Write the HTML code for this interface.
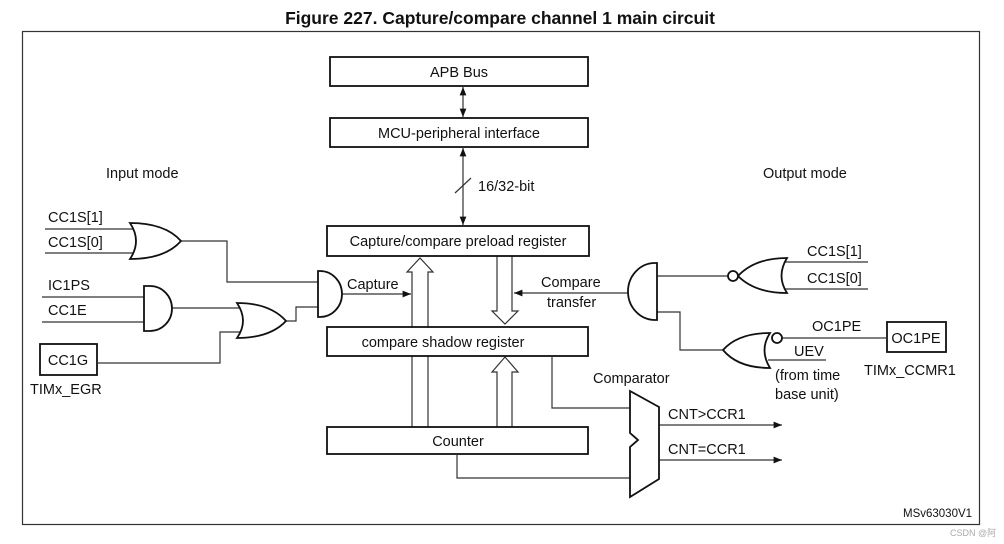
<!DOCTYPE html>
<html><head><meta charset="utf-8"><style>
html,body{margin:0;padding:0;background:#fff;}
svg{display:block;}
text{font-family:"Liberation Sans",Arial,sans-serif;font-size:14.5px;fill:#111;}
</style></head><body>
<svg width="1004" height="544" viewBox="0 0 1004 544" xmlns="http://www.w3.org/2000/svg">
<defs>
<marker id="ah" viewBox="0 0 10 10" refX="10" refY="5" markerWidth="7" markerHeight="7" orient="auto-start-reverse"><path d="M0,1 L10,5 L0,9 z" fill="#111"/></marker>
</defs>
<text x="500" y="24" text-anchor="middle" style="font-size:17.5px;font-weight:bold">Figure 227. Capture/compare channel 1 main circuit</text>
<rect x="22.5" y="31.5" width="957" height="493" fill="none" stroke="#333" stroke-width="1.2"/>

<g stroke="#333" stroke-width="1.2" fill="none">
<line x1="463" y1="87" x2="463" y2="117" marker-start="url(#ah)" marker-end="url(#ah)"/>
<line x1="463" y1="148" x2="463" y2="225" marker-start="url(#ah)" marker-end="url(#ah)"/>
<line x1="455" y1="193" x2="471" y2="178"/>
<!-- hollow arrows -->
<path d="M412,427 L412,272 L407,272 L420,258 L433,272 L428,272 L428,427" fill="#fff"/>
<path d="M497,256 L497,311 L492,311 L505,324 L518,311 L512,311 L512,256" fill="#fff"/>
<path d="M497,427 L497,372 L492,372 L505,357 L518,372 L512,372 L512,427" fill="#fff"/>
</g>

<g fill="#fff" stroke="#111" stroke-width="1.8">
<rect x="330" y="57" width="258" height="29"/>
<rect x="330" y="118" width="258" height="29"/>
<rect x="327" y="226" width="262" height="30"/>
<rect x="327" y="327" width="261" height="29"/>
<rect x="327" y="427" width="261" height="27"/>
<rect x="40" y="344" width="57" height="31"/>
<rect x="887" y="322" width="59" height="30"/>
</g>
<text x="459" y="77" text-anchor="middle">APB Bus</text>
<text x="459" y="138" text-anchor="middle">MCU-peripheral interface</text>
<text x="458" y="246" text-anchor="middle">Capture/compare preload register</text>
<text x="443" y="347" text-anchor="middle">compare shadow register</text>
<text x="458" y="446" text-anchor="middle">Counter</text>
<text x="68" y="365" text-anchor="middle">CC1G</text>
<text x="916" y="343" text-anchor="middle">OC1PE</text>

<g stroke="#333" stroke-width="1.2" fill="none">
<!-- left wiring -->
<line x1="45" y1="229" x2="135" y2="229"/>
<line x1="45" y1="253" x2="135" y2="253"/>
<polyline points="181,241 227,241 227,282 318,282"/>
<line x1="42" y1="297" x2="144" y2="297"/>
<line x1="42" y1="322" x2="144" y2="322"/>
<line x1="168" y1="308" x2="240" y2="308"/>
<polyline points="286,321 296,321 296,307 318,307"/>
<polyline points="97,363 220,363 220,332 240,332"/>
<line x1="342" y1="294" x2="411" y2="294" marker-end="url(#ah)"/>
<!-- right wiring -->
<line x1="628" y1="293" x2="514" y2="293" marker-end="url(#ah)"/>
<line x1="657" y1="276" x2="728" y2="276"/>
<polyline points="657,312 680,312 680,350 725,350"/>
<line x1="783" y1="262" x2="868" y2="262"/>
<line x1="783" y1="289" x2="868" y2="289"/>
<line x1="782" y1="338" x2="887" y2="338"/>
<line x1="768" y1="360" x2="826" y2="360"/>
<polyline points="552,356 552,408 630,408"/>
<polyline points="457,454 457,478 630,478"/>
<line x1="659" y1="425" x2="782" y2="425" marker-end="url(#ah)"/>
<line x1="659" y1="460" x2="782" y2="460" marker-end="url(#ah)"/>
</g>

<g fill="#fff" stroke="#111" stroke-width="1.8">
<path d="M130,223 Q165,223 181,241 Q165,259 130,259 Q142,241 130,223 z"/>
<path d="M144,286 L150,286 A22,22.5 0 0 1 150,331 L144,331 z"/>
<path d="M237,303 Q270,303 286,321 Q270,338 237,338 Q249,321 237,303 z"/>
<path d="M318,271 L320,271 A22,23 0 0 1 320,317 L318,317 z"/>
<path d="M657,263 L655,263 A27,28.5 0 0 0 655,320 L657,320 z"/>
<path d="M787,258 Q755,258 738,276 Q755,293 787,293 Q776,276 787,258 z"/>
<circle cx="733" cy="276" r="5"/>
<path d="M770,333 Q738,333 723,350 Q738,368 770,368 Q759,350 770,333 z"/>
<circle cx="777" cy="338" r="5"/>
<path d="M630,391 L659,407 L659,479 L630,497 L630,447 L638,440 L630,433 z"/>
</g>

<text x="106" y="178">Input mode</text>
<text x="763" y="178">Output mode</text>
<text x="478" y="191">16/32-bit</text>
<text x="48" y="222">CC1S[1]</text>
<text x="48" y="247">CC1S[0]</text>
<text x="48" y="290">IC1PS</text>
<text x="48" y="315">CC1E</text>
<text x="30" y="394">TIMx_EGR</text>
<text x="347" y="289">Capture</text>
<text x="541" y="287">Compare</text>
<text x="547" y="307">transfer</text>
<text x="807" y="256">CC1S[1]</text>
<text x="807" y="283">CC1S[0]</text>
<text x="812" y="331">OC1PE</text>
<text x="794" y="356">UEV</text>
<text x="775" y="380">(from time</text>
<text x="775" y="399">base unit)</text>
<text x="864" y="375">TIMx_CCMR1</text>
<text x="593" y="383">Comparator</text>
<text x="668" y="419">CNT&gt;CCR1</text>
<text x="668" y="454">CNT=CCR1</text>
<text x="903" y="517" style="font-size:11.5px">MSv63030V1</text>
<text x="950" y="536" style="font-size:9px;fill:#aaa">CSDN @阿</text>
</svg>
</body></html>
